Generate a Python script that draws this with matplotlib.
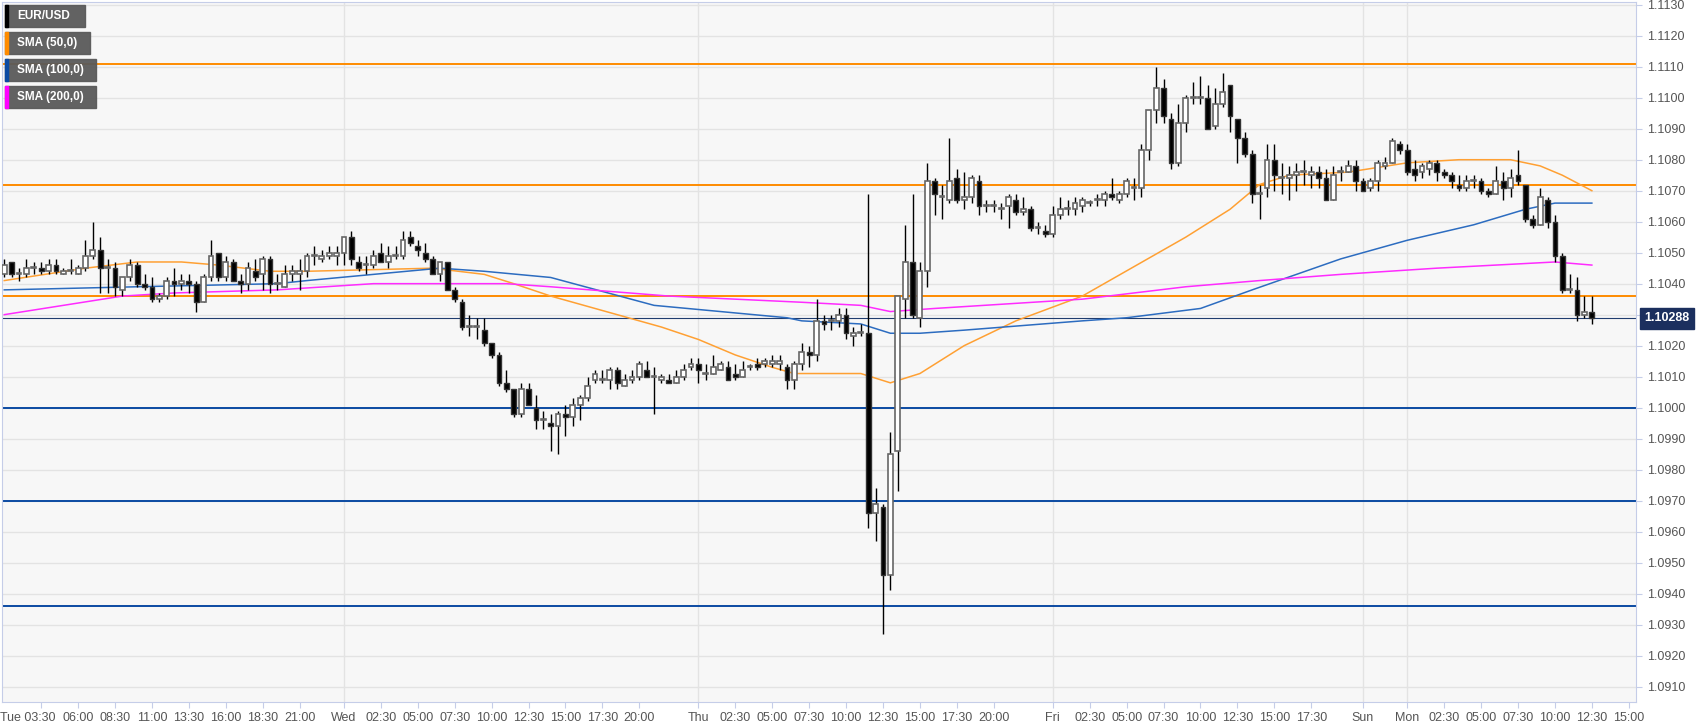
import numpy as np
import matplotlib
matplotlib.use("Agg")
import matplotlib.pyplot as plt
import matplotlib.transforms as mtransforms
from matplotlib.patches import Rectangle

plt.rcParams["font.family"] = ["Liberation Sans", "DejaVu Sans"]

# 30-minute EUR/USD candles (open, high, low, close)
seg_a = [
    (1.1043, 1.1048, 1.1042, 1.1046), (1.1047, 1.1047, 1.1042, 1.1043), (1.1043, 1.1045, 1.1041, 1.1043),
    (1.1043, 1.1048, 1.1042, 1.1045), (1.1045, 1.1047, 1.1043, 1.1045), (1.1045, 1.1047, 1.1043, 1.1044),
    (1.1044, 1.1048, 1.1043, 1.1046), (1.1046, 1.1048, 1.1043, 1.1044), (1.1043, 1.1045, 1.1043, 1.1044),
    (1.1044, 1.1048, 1.1043, 1.1044), (1.1043, 1.1046, 1.1043, 1.1045), (1.1045, 1.1054, 1.1044, 1.1049),
    (1.1049, 1.1060, 1.1048, 1.1051), (1.1051, 1.1055, 1.1037, 1.1045), (1.1045, 1.1048, 1.1037, 1.1045),
    (1.1045, 1.1047, 1.1036, 1.1039), (1.1038, 1.1042, 1.1036, 1.1042), (1.1042, 1.1048, 1.1041, 1.1046),
    (1.1046, 1.1047, 1.1039, 1.1040), (1.1040, 1.1043, 1.1038, 1.1039), (1.1039, 1.1042, 1.1034, 1.1035),
    (1.1035, 1.1037, 1.1034, 1.1036), (1.1036, 1.1042, 1.1035, 1.1041), (1.1041, 1.1045, 1.1036, 1.1040),
    (1.1040, 1.1043, 1.1038, 1.1041), (1.1041, 1.1043, 1.1037, 1.1040), (1.1040, 1.1041, 1.1031, 1.1034),
    (1.1034, 1.1043, 1.1034, 1.1042), (1.1042, 1.1054, 1.1041, 1.1049), (1.1050, 1.1050, 1.1041, 1.1042),
    (1.1042, 1.1049, 1.1041, 1.1047), (1.1047, 1.1048, 1.1041, 1.1041), (1.1041, 1.1043, 1.1037, 1.1040),
    (1.1040, 1.1047, 1.1038, 1.1045), (1.1044, 1.1048, 1.1041, 1.1042), (1.1043, 1.1049, 1.1038, 1.1048),
    (1.1048, 1.1049, 1.1037, 1.1040), (1.1040, 1.1043, 1.1038, 1.1040),
]
seg_b = [
    (1.1039, 1.1046, 1.1039, 1.1043), (1.1043, 1.1046, 1.1041, 1.1044), (1.1043, 1.1048, 1.1038, 1.1044),
    (1.1044, 1.1050, 1.1042, 1.1049), (1.1049, 1.1052, 1.1046, 1.1049), (1.1048, 1.1051, 1.1047, 1.1049),
    (1.1049, 1.1052, 1.1048, 1.1050), (1.1049, 1.1052, 1.1046, 1.1050), (1.1050, 1.1055, 1.1046, 1.1055),
    (1.1055, 1.1057, 1.1046, 1.1048), (1.1047, 1.1049, 1.1044, 1.1045), (1.1046, 1.1049, 1.1043, 1.1046),
    (1.1046, 1.1051, 1.1045, 1.1049), (1.1050, 1.1053, 1.1047, 1.1047), (1.1047, 1.1052, 1.1045, 1.1049),
    (1.1049, 1.1052, 1.1048, 1.1049), (1.1049, 1.1057, 1.1048, 1.1054), (1.1055, 1.1057, 1.1052, 1.1053),
    (1.1052, 1.1054, 1.1049, 1.1051), (1.1050, 1.1053, 1.1047, 1.1048), (1.1048, 1.1049, 1.1043, 1.1043),
    (1.1043, 1.1047, 1.1041, 1.1047), (1.1047, 1.1047, 1.1038, 1.1038), (1.1038, 1.1039, 1.1034, 1.1035),
    (1.1034, 1.1035, 1.1025, 1.1026), (1.1026, 1.1030, 1.1023, 1.1026), (1.1026, 1.1029, 1.1022, 1.1026),
    (1.1025, 1.1029, 1.1020, 1.1021), (1.1021, 1.1021, 1.1016, 1.1017), (1.1017, 1.1018, 1.1007, 1.1008),
    (1.1008, 1.1012, 1.1005, 1.1006), (1.1006, 1.1006, 1.0997, 1.0998), (1.0998, 1.1008, 1.0997, 1.1006),
    (1.1006, 1.1008, 1.1001, 1.1001), (1.1000, 1.1004, 1.0993, 1.0996), (1.0996, 1.0999, 1.0993, 1.0996),
    (1.0995, 1.0998, 1.0986, 1.0994),
]
seg_c = [
    (1.0994, 1.0999, 1.0985, 1.0998), (1.0998, 1.1001, 1.0991, 1.0997), (1.0997, 1.1003, 1.0994, 1.1001),
    (1.1001, 1.1004, 1.0996, 1.1003), (1.1003, 1.1010, 1.1002, 1.1007), (1.1009, 1.1012, 1.1008, 1.1011),
    (1.1009, 1.1012, 1.1008, 1.1009), (1.1009, 1.1013, 1.1006, 1.1012), (1.1012, 1.1013, 1.1006, 1.1008),
    (1.1007, 1.1011, 1.1007, 1.1009), (1.1009, 1.1012, 1.1008, 1.1010), (1.1010, 1.1015, 1.1009, 1.1014),
    (1.1012, 1.1015, 1.1010, 1.1010), (1.1010, 1.1013, 1.0998, 1.1010), (1.1009, 1.1011, 1.1008, 1.1010),
    (1.1009, 1.1011, 1.1008, 1.1008), (1.1008, 1.1012, 1.1008, 1.1010), (1.1010, 1.1014, 1.1009, 1.1012),
    (1.1013, 1.1016, 1.1012, 1.1014), (1.1014, 1.1016, 1.1008, 1.1012), (1.1011, 1.1014, 1.1009, 1.1011),
    (1.1011, 1.1017, 1.1011, 1.1013), (1.1012, 1.1015, 1.1012, 1.1014), (1.1013, 1.1015, 1.1009, 1.1009),
    (1.1011, 1.1014, 1.1009, 1.1010), (1.1010, 1.1015, 1.1010, 1.1012), (1.1013, 1.1014, 1.1012, 1.1013),
    (1.1014, 1.1016, 1.1012, 1.1013), (1.1014, 1.1016, 1.1013, 1.1015), (1.1014, 1.1017, 1.1013, 1.1015),
    (1.1014, 1.1017, 1.1012, 1.1015), (1.1013, 1.1014, 1.1006, 1.1009), (1.1009, 1.1015, 1.1006, 1.1014),
    (1.1014, 1.1021, 1.1012, 1.1018), (1.1018, 1.1020, 1.1013, 1.1017),
]
seg_d = [
    (1.1017, 1.1035, 1.1015, 1.1028), (1.1028, 1.1030, 1.1025, 1.1027), (1.1028, 1.1030, 1.1025, 1.1028),
    (1.1028, 1.1032, 1.1026, 1.1030), (1.1030, 1.1032, 1.1022, 1.1024), (1.1023, 1.1026, 1.1020, 1.1024),
    (1.1024, 1.1027, 1.1023, 1.1024), (1.1024, 1.1069, 1.0961, 1.0966), (1.0966, 1.0974, 1.0957, 1.0969),
    (1.0968, 1.0969, 1.0927, 1.0946), (1.0946, 1.0992, 1.0941, 1.0985), (1.0986, 1.1036, 1.0973, 1.1036),
    (1.1035, 1.1059, 1.1029, 1.1047), (1.1047, 1.1069, 1.1029, 1.1030), (1.1029, 1.1047, 1.1026, 1.1044),
    (1.1044, 1.1079, 1.1039, 1.1073), (1.1073, 1.1074, 1.1062, 1.1069), (1.1068, 1.1072, 1.1061, 1.1068),
    (1.1067, 1.1087, 1.1066, 1.1073), (1.1074, 1.1077, 1.1066, 1.1067), (1.1067, 1.1076, 1.1064, 1.1068),
    (1.1068, 1.1075, 1.1066, 1.1074), (1.1073, 1.1075, 1.1062, 1.1065), (1.1065, 1.1067, 1.1063, 1.1065),
    (1.1065, 1.1067, 1.1063, 1.1065), (1.1064, 1.1066, 1.1061, 1.1064), (1.1065, 1.1069, 1.1058, 1.1068),
    (1.1067, 1.1069, 1.1062, 1.1063), (1.1063, 1.1068, 1.1062, 1.1064), (1.1064, 1.1065, 1.1057, 1.1058),
    (1.1058, 1.1060, 1.1056, 1.1058), (1.1057, 1.1059, 1.1055, 1.1056), (1.1056, 1.1065, 1.1055, 1.1062),
    (1.1062, 1.1068, 1.1061, 1.1064), (1.1064, 1.1067, 1.1062, 1.1064), (1.1064, 1.1068, 1.1062, 1.1066),
]
seg_e = [
    (1.1065, 1.1068, 1.1063, 1.1067), (1.1066, 1.1067, 1.1065, 1.1066), (1.1067, 1.1069, 1.1065, 1.1067),
    (1.1067, 1.1070, 1.1065, 1.1069), (1.1069, 1.1074, 1.1067, 1.1068), (1.1067, 1.1070, 1.1066, 1.1069),
    (1.1069, 1.1074, 1.1068, 1.1073), (1.1071, 1.1074, 1.1067, 1.1071), (1.1071, 1.1085, 1.1068, 1.1083),
    (1.1083, 1.1096, 1.1080, 1.1096), (1.1096, 1.1110, 1.1092, 1.1103), (1.1103, 1.1106, 1.1092, 1.1094),
    (1.1093, 1.1095, 1.1077, 1.1079), (1.1079, 1.1098, 1.1078, 1.1092), (1.1092, 1.1101, 1.1089, 1.1100),
    (1.1100, 1.1105, 1.1098, 1.1100), (1.1100, 1.1107, 1.1098, 1.1100), (1.1100, 1.1104, 1.1090, 1.1090),
    (1.1091, 1.1103, 1.1090, 1.1098), (1.1098, 1.1108, 1.1097, 1.1102), (1.1104, 1.1104, 1.1089, 1.1094),
    (1.1093, 1.1093, 1.1079, 1.1087), (1.1087, 1.1089, 1.1081, 1.1082), (1.1082, 1.1083, 1.1066, 1.1069),
    (1.1069, 1.1072, 1.1061, 1.1069), (1.1071, 1.1085, 1.1068, 1.1080), (1.1080, 1.1085, 1.1070, 1.1075),
    (1.1074, 1.1079, 1.1069, 1.1074), (1.1074, 1.1078, 1.1067, 1.1075), (1.1075, 1.1079, 1.1070, 1.1076),
    (1.1076, 1.1080, 1.1072, 1.1076), (1.1075, 1.1078, 1.1071, 1.1076), (1.1076, 1.1078, 1.1071, 1.1074),
    (1.1074, 1.1077, 1.1067, 1.1067), (1.1067, 1.1078, 1.1067, 1.1075), (1.1076, 1.1078, 1.1073, 1.1076),
    (1.1076, 1.1080, 1.1076, 1.1078),
]
seg_f = [
    (1.1078, 1.1080, 1.1070, 1.1073), (1.1073, 1.1074, 1.1070, 1.1070), (1.1071, 1.1074, 1.1070, 1.1073),
    (1.1073, 1.1080, 1.1070, 1.1079), (1.1078, 1.1081, 1.1077, 1.1079), (1.1079, 1.1087, 1.1079, 1.1086),
    (1.1085, 1.1086, 1.1082, 1.1083), (1.1083, 1.1085, 1.1075, 1.1076), (1.1077, 1.1080, 1.1073, 1.1075),
    (1.1076, 1.1079, 1.1074, 1.1078), (1.1077, 1.1080, 1.1075, 1.1079), (1.1079, 1.1080, 1.1073, 1.1076),
    (1.1076, 1.1077, 1.1074, 1.1075), (1.1075, 1.1076, 1.1071, 1.1073), (1.1072, 1.1075, 1.1070, 1.1071),
    (1.1071, 1.1075, 1.1070, 1.1073), (1.1073, 1.1075, 1.1071, 1.1073), (1.1073, 1.1074, 1.1069, 1.1070),
    (1.1070, 1.1071, 1.1068, 1.1069), (1.1069, 1.1078, 1.1069, 1.1073), (1.1073, 1.1076, 1.1067, 1.1071),
    (1.1071, 1.1077, 1.1068, 1.1074), (1.1075, 1.1083, 1.1072, 1.1073), (1.1072, 1.1072, 1.1060, 1.1061),
    (1.1061, 1.1062, 1.1058, 1.1059), (1.1059, 1.1071, 1.1059, 1.1068), (1.1067, 1.1068, 1.1058, 1.1060),
    (1.1060, 1.1062, 1.1047, 1.1049), (1.1049, 1.1050, 1.1037, 1.1038), (1.1038, 1.1043, 1.1037, 1.1038),
    (1.1038, 1.1042, 1.1028, 1.1030), (1.1030, 1.1036, 1.1029, 1.1031), (1.1031, 1.1036, 1.1027, 1.10288),
]

# moving averages, sampled along the chart (candle index, price)
sma50_idx = [0, 11, 18, 24, 29, 36, 41, 58, 65, 69, 74, 89, 94, 99, 104, 107, 116, 120, 124, 130, 137, 146,
             160, 166, 170, 174, 182, 190, 197, 204, 208, 211, 215]
sma50_val = [1.1041, 1.1045, 1.1047, 1.1047, 1.1046, 1.1044, 1.1044, 1.1045, 1.1043, 1.1040, 1.1036, 1.1026,
             1.1022, 1.1017, 1.1013, 1.1011, 1.1011, 1.1008, 1.1011, 1.1020, 1.1028, 1.1036,
             1.1055, 1.1064, 1.1072, 1.1075, 1.1076, 1.1079, 1.1080, 1.1080, 1.1078, 1.1075, 1.1070]
sma100_idx = [0, 18, 37, 41, 50, 59, 65, 74, 88, 106, 108, 116, 120, 124, 130, 146, 152, 162, 169, 181,
              190, 199, 206, 210, 215]
sma100_val = [1.1038, 1.1039, 1.1040, 1.1041, 1.1043, 1.1045, 1.1044, 1.1042, 1.1033, 1.1029, 1.1028, 1.1027,
              1.1024, 1.1024, 1.1025, 1.1028, 1.1029, 1.1032, 1.1038, 1.1048, 1.1054, 1.1059, 1.1064,
              1.1066, 1.1066]
sma200_idx = [0, 16, 23, 37, 50, 59, 68, 74, 90, 108, 116, 120, 126, 146, 160, 170, 181, 194, 210, 215]
sma200_val = [1.1030, 1.1036, 1.1037, 1.1038, 1.1040, 1.1040, 1.1040, 1.1039, 1.1036, 1.1034, 1.1033, 1.1031,
              1.1032, 1.1035, 1.1039, 1.1041, 1.1043, 1.1045, 1.1047, 1.1046]

resistance = [1.1111, 1.1072, 1.1036]
support = [1.1000, 1.0970, 1.0936]
last_price = 1.10288

tick_idx = [5, 10, 15, 20, 25, 30, 35, 40, 46, 51, 56, 61, 66, 71, 76, 81, 86,
            94, 99, 104, 109, 114, 119, 124, 129, 134, 142, 147, 152, 157, 162, 167, 172, 177,
            184, 190, 195, 200, 205, 210, 215, 220]
tick_lbl = ["Tue 03:30", "06:00", "08:30", "11:00", "13:30", "16:00", "18:30", "21:00", "Wed", "02:30",
            "05:00", "07:30", "10:00", "12:30", "15:00", "17:30", "20:00",
            "Thu", "02:30", "05:00", "07:30", "10:00", "12:30", "15:00", "17:30", "20:00",
            "Fri", "02:30", "05:00", "07:30", "10:00", "12:30", "15:00", "17:30",
            "Sun", "Mon", "02:30", "05:00", "07:30", "10:00", "12:30", "15:00"]
day_idx = [46, 94, 142, 184, 190]

ORANGE = "#ff8c00"
NAVY = "#0b4aa2"
GRID = "#e3e3e3"
TXT = "#555555"

candles = np.array(seg_a + seg_b + seg_c + seg_d + seg_e + seg_f)
o, h, l, c = candles.T
x = np.arange(len(candles))

fig = plt.figure(figsize=(17.07, 7.28), dpi=100)
ax = fig.add_axes([0.0012, 0.0357, 0.9573, 0.962])
ax.set_facecolor("#f7f7f7")
fig.patch.set_facecolor("white")

ax.set_ylim(1.0905, 1.1131)
ax.set_xlim(-0.3, 221)
yt = np.round(np.arange(1.0910, 1.11301, 0.001), 4)
ax.set_yticks(yt)
ax.set_yticklabels([f"{v:.4f}" for v in yt])
ax.yaxis.tick_right()
ax.set_xticks(tick_idx)
ax.set_xticklabels(tick_lbl)
ax.tick_params(colors=TXT, labelsize=9, length=4)
ax.tick_params(axis="both", color="#c5cde8")
# first label sits left of its tick so it is not clipped and clears "06:00"
first = ax.get_xticklabels()[0]
first.set_ha("right")
first.set_transform(first.get_transform() + mtransforms.ScaledTranslation(14 / 100, 0, fig.dpi_scale_trans))

for y in yt:
    ax.axhline(y, color=GRID, lw=1, zorder=0)
for d in day_idx:
    ax.axvline(d, color=GRID, lw=1, zorder=0)
for side, sp in ax.spines.items():
    sp.set_color("#c5cde8")

for lvl in resistance:
    ax.axhline(lvl, color=ORANGE, lw=1.4, zorder=1)
for lvl in support:
    ax.axhline(lvl, color=NAVY, lw=1.4, zorder=1)
ax.axhline(last_price, color="#1f3c6e", lw=0.8, zorder=1)

ax.plot(sma50_idx, sma50_val, color="#ffa033", lw=1.1, zorder=2)
ax.plot(sma100_idx, sma100_val, color="#2c6cc0", lw=1.1, zorder=2)
ax.plot(sma200_idx, sma200_val, color="#ff2bff", lw=1.1, zorder=2)

# candles
up = c >= o
ax.vlines(x, l, h, color="black", lw=1, zorder=3)
body_lo = np.minimum(o, c)
body_h = np.maximum(np.abs(c - o), 0.00003)
ax.bar(x[up], body_h[up], bottom=body_lo[up], width=0.65, color="white",
       edgecolor="#666666", lw=1.2, zorder=4)
ax.bar(x[~up], body_h[~up], bottom=body_lo[~up], width=0.65, color="black",
       edgecolor="#333333", lw=1, zorder=4)

# legend tags, top left
legend = [("EUR/USD", "black", 80), ("SMA (50,0)", ORANGE, 85),
          ("SMA (100,0)", NAVY, 91), ("SMA (200,0)", "#ff00ff", 91)]
W, H = 1707, 728
for i, (name, col, w) in enumerate(legend):
    top = 5 + i * 27
    fig.patches.append(Rectangle((5 / W, 1 - (top + 22) / H), w / W, 22 / H,
                                 transform=fig.transFigure, color="#5a5a5a", alpha=0.95, zorder=10))
    fig.patches.append(Rectangle((5 / W, 1 - (top + 22) / H), 3 / W, 22 / H,
                                 transform=fig.transFigure, color=col, zorder=11))
    fig.text(17 / W, 1 - (top + 11) / H, name, color="white", fontsize=8.5, fontweight="bold",
             va="center", ha="left", zorder=12)

# last price tag
ax.annotate(f"{last_price:.5f}", xy=(1.0, last_price), xycoords=("axes fraction", "data"),
            xytext=(6, 0), textcoords="offset points", va="center", ha="left",
            color="white", fontsize=9, fontweight="bold", zorder=20,
            bbox=dict(boxstyle="square,pad=0.35", fc="#1b2f5e", ec="#1b2f5e"), annotation_clip=False)

fig.savefig("out.png", dpi=100)
